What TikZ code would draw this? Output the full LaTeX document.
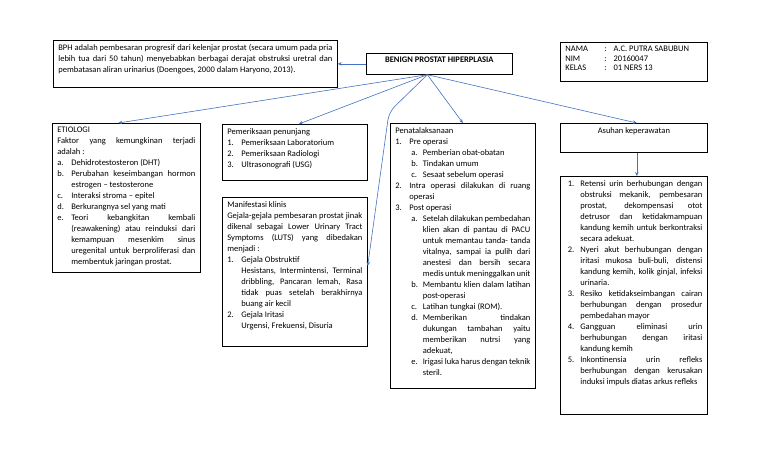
\documentclass[tikz,border=0pt]{standalone}
\usepackage{fontspec}
\setmainfont{Carlito}
\usepackage{enumitem}
\usetikzlibrary{arrows.meta}

\definecolor{linkblue}{RGB}{68,114,196}

\setlist[enumerate]{nosep, align=left, labelsep=0pt}
\setlist[enumerate,1]{labelindent=0pt, labelwidth=14pt, leftmargin=14pt}
\setlist[enumerate,2]{labelindent=2pt, labelwidth=11.5pt, leftmargin=13.5pt}

\tikzset{
    box/.style={draw, line width=0.7pt, anchor=north west, inner xsep=5pt, inner ysep=4pt,
        font=\fontsize{8.5}{11}\selectfont},
    link/.style={draw=linkblue, line width=0.6pt, -{Stealth[length=4pt,width=3.5pt]}}
}

\begin{document}
\begin{tikzpicture}[x=1pt, y=-1pt]
    \useasboundingbox[fill=white] (0,0) rectangle (768,466);
    % Top row
    \node[box] (def) at (53,40) {\parbox[t][39pt][t]{274pt}{BPH adalah pembesaran progresif dari kelenjar prostat (secara umum pada pria \linebreak lebih tua dari 50 tahun) menyebabkan berbagai derajat obstruksi uretral dan \linebreak pembatasan aliran urinarius (Doengoes, 2000 dalam Haryono, 2013).}};
    \node[box] (benign) at (366,53) {\parbox[t][13pt][t]{136pt}{\centering\bfseries BENIGN PROSTAT HIPERPLASIA}};
    \node[box] (nama) at (560,42) {\parbox[t][31pt][t]{137pt}{\raggedright\fontsize{8.5}{9.5}\selectfont
        \makebox[39pt][l]{NAMA}:\hspace{7pt}A.C. PUTRA SABUBUN\\
        \makebox[39pt][l]{NIM}:\hspace{7pt}20160047\\
        \makebox[39pt][l]{KELAS}:\hspace{7pt}01 NERS 13}};
    % Columns
    \node[box] (etio) at (52,123) {\parbox[t][141pt][t]{138pt}{ETIOLOGI\par
        Faktor yang kemungkinan terjadi \linebreak adalah :
        \begin{enumerate}[label=\alph*.]
        \item Dehidrotestosteron (DHT)
        \item Perubahan keseimbangan hormon estrogen – testosterone
        \item Interaksi stroma – epitel
        \item Berkurangnya sel yang mati
        \item Teori kebangkitan kembali \linebreak (reawakening) atau reinduksi dari \linebreak kemampuan mesenkim sinus \linebreak uregenital untuk berproliferasi dan \linebreak membentuk jaringan prostat.
        \end{enumerate}}};
    \node[box] (pem) at (222,124) {\parbox[t][48pt][t]{135pt}{Pemeriksaan penunjang
        \begin{enumerate}
        \item Pemeriksaan Laboratorium
        \item Pemeriksaan Radiologi
        \item Ultrasonografi (USG)
        \end{enumerate}}};
    \node[box] (manif) at (222,197) {\parbox[t][141pt][t]{135pt}{Manifestasi klinis\par
        Gejala-gejala pembesaran prostat jinak \linebreak dikenal sebagai Lower Urinary Tract \linebreak Symptoms (LUTS) yang dibedakan \linebreak menjadi :
        \begin{enumerate}
        \item Gejala Obstruktif\par Hesistans, Intermintensi, Terminal \linebreak dribbling, Pancaran lemah, Rasa \linebreak tidak puas setelah berakhirnya \linebreak buang air kecil
        \item Gejala Iritasi\par Urgensi, Frekuensi, Disuria
        \end{enumerate}}};
    \node[box] (tata) at (390,123) {\parbox[t][257pt][t]{135pt}{Penatalaksanaan
        \begin{enumerate}
        \item Pre operasi
            \begin{enumerate}[label=\alph*.]
            \item Pemberian obat-obatan
            \item Tindakan umum
            \item Sesaat sebelum operasi
            \end{enumerate}
        \item Intra operasi dilakukan di ruang \linebreak operasi
        \item Post operasi
            \begin{enumerate}[label=\alph*.]
            \item Setelah dilakukan pembedahan \linebreak klien akan di pantau di PACU \linebreak untuk memantau tanda- tanda \linebreak vitalnya, sampai ia pulih dari \linebreak anestesi dan bersih secara \linebreak medis untuk meninggalkan unit
            \item Membantu klien dalam latihan \linebreak post-operasi
            \item Latihan tungkai (ROM).
            \item Memberikan tindakan \linebreak dukungan tambahan yaitu \linebreak memberikan nutrsi yang \linebreak adekuat,
            \item Irigasi luka harus dengan teknik \linebreak steril.
            \end{enumerate}
        \end{enumerate}}};
    \node[box] (asuh) at (560,123) {\parbox[t][21pt][t]{137pt}{\centering Asuhan keperawatan}};
    \node[box] (diag) at (560,176) {\parbox[t][230pt][t]{137pt}{%
        \begin{enumerate}[labelindent=2.5pt, labelwidth=12.5pt, leftmargin=15pt]
        \item Retensi urin berhubungan dengan \linebreak obstruksi mekanik, pembesaran \linebreak prostat, dekompensasi otot \linebreak detrusor dan ketidakmampuan \linebreak kandung kemih untuk berkontraksi \linebreak secara adekuat.
        \item Nyeri akut berhubungan dengan \linebreak iritasi mukosa buli-buli, distensi \linebreak kandung kemih, kolik ginjal, infeksi \linebreak urinaria.
        \item Resiko ketidakseimbangan cairan \linebreak berhubungan dengan prosedur \linebreak pembedahan mayor
        \item Gangguan eliminasi urin \linebreak berhubungan dengan iritasi \linebreak kandung kemih
        \item Inkontinensia urin refleks \linebreak berhubungan dengan kerusakan \linebreak induksi impuls diatas arkus refleks
        \end{enumerate}}};
    % Arrows
    \coordinate (hub) at ([xshift=-12pt]benign.south);
    \coordinate (bend) at (389,112);
    \draw[link] (benign) -- (def);
    \draw[link] (hub) -- ([xshift=-8pt]etio.north);
    \draw[link] (hub) -- ([xshift=4pt]pem.north);
    \draw[link, rounded corners=8pt] (hub) -- (bend) -- ([yshift=6pt]manif.east);
    \draw[link] (hub) -- (tata.north);
    \draw[link] (hub) -- ([xshift=3pt]asuh.north);
    \draw[link] ([xshift=3pt]asuh.south) -- ([xshift=3pt]diag.north);
\end{tikzpicture}
\end{document}
